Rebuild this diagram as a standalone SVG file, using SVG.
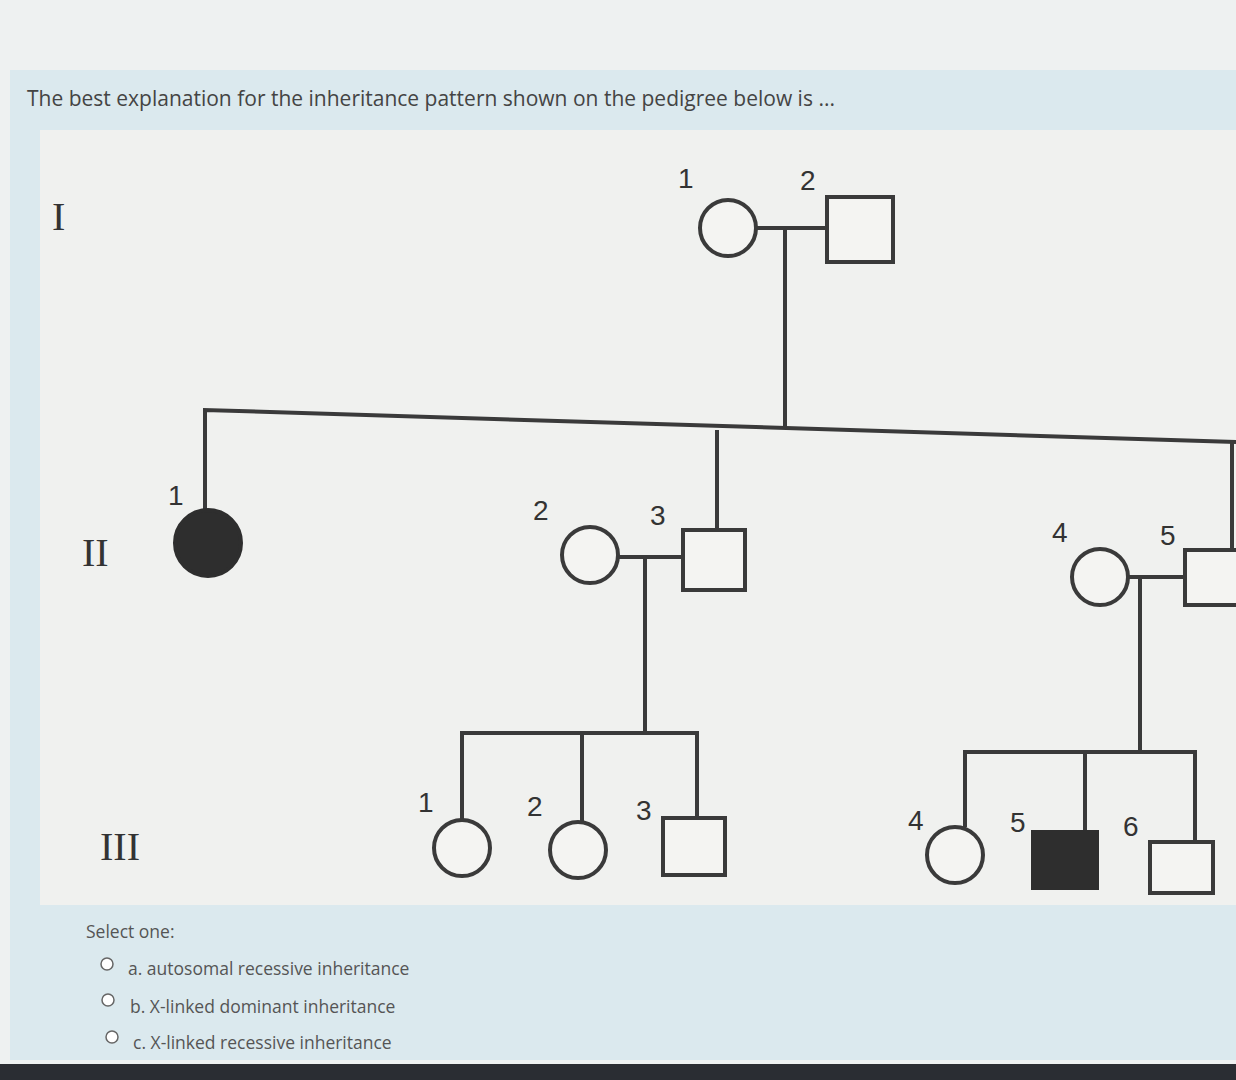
<svg xmlns="http://www.w3.org/2000/svg" width="1236" height="1080" viewBox="0 0 1236 1080">
<style>
.ln{stroke:#3a3a3a;stroke-width:4;fill:none}
.sym{stroke:#3a3a3a;stroke-width:4;fill:#f4f4f2}
.fill{fill:#2e2e2e;stroke:#2e2e2e;stroke-width:4}
.num{font-family:"Liberation Sans",Arial,sans-serif;font-size:28px;fill:#333}
.gen{font-family:"Liberation Serif","Times New Roman",serif;font-size:40px;fill:#333}
.ui{font-family:"Open Sans","Liberation Sans",sans-serif;font-size:17.5px;fill:#555}
.rad{fill:#fff;stroke:#666;stroke-width:1.5}
</style>
<rect width="1236" height="1080" fill="#eef1f1"/>
<rect x="10" y="70" width="1226" height="990" fill="#dbe9ee"/>
<rect x="40" y="130" width="1196" height="775" fill="#f0f1ef"/>
<text x="27" y="106" class="ui" style="font-size:21px;fill:#444">The best explanation for the inheritance pattern shown on the pedigree below is ...</text>
<g id="gen-labels">
<text x="52" y="230" class="gen">I</text>
<text x="82" y="566" class="gen">II</text>
<text x="100" y="860" class="gen">III</text>
</g>
<g id="connectors">
<path class="ln" d="M756 228H827M785 228V428"/>
<path class="ln" d="M205 510V410L1236 442"/>
<path class="ln" d="M717 430V530M618 557H683M645 557V735"/>
<path class="ln" d="M1232 441V550M1128 577H1185M1140 577V752"/>
<path class="ln" d="M462 820V733H697V818M582 822V735"/>
<path class="ln" d="M965 827V752H1195V842M1085 832V752"/>
</g>
<g id="I-1"><circle cx="728" cy="228" r="28" class="sym"/><text x="678" y="188" class="num">1</text></g>
<g id="I-2"><rect x="827" y="197" width="66" height="65" class="sym"/><text x="800" y="190" class="num">2</text></g>
<g id="II-1"><circle cx="208" cy="543" r="33" class="fill"/><text x="168" y="505" class="num">1</text></g>
<g id="II-2"><circle cx="590" cy="555" r="28" class="sym"/><text x="533" y="520" class="num">2</text></g>
<g id="II-3"><rect x="683" y="530" width="62" height="60" class="sym"/><text x="650" y="525" class="num">3</text></g>
<g id="II-4"><circle cx="1100" cy="577" r="28" class="sym"/><text x="1052" y="542" class="num">4</text></g>
<g id="II-5"><rect x="1185" y="550" width="60" height="55" class="sym"/><text x="1160" y="545" class="num">5</text></g>
<g id="III-1"><circle cx="462" cy="848" r="28" class="sym"/><text x="418" y="812" class="num">1</text></g>
<g id="III-2"><circle cx="578" cy="850" r="28" class="sym"/><text x="527" y="816" class="num">2</text></g>
<g id="III-3"><rect x="663" y="818" width="62" height="57" class="sym"/><text x="636" y="820" class="num">3</text></g>
<g id="III-4"><circle cx="955" cy="855" r="28" class="sym"/><text x="908" y="830" class="num">4</text></g>
<g id="III-5"><rect x="1033" y="832" width="64" height="56" class="fill"/><text x="1010" y="832" class="num">5</text></g>
<g id="III-6"><rect x="1150" y="842" width="63" height="51" class="sym"/><text x="1123" y="836" class="num">6</text></g>
<text x="86" y="938" class="ui">Select one:</text>
<circle cx="107" cy="964" r="6" class="rad"/><text x="128" y="975" class="ui">a. autosomal recessive inheritance</text>
<circle cx="108" cy="1000" r="6" class="rad"/><text x="130" y="1013" class="ui">b. X-linked dominant inheritance</text>
<circle cx="112" cy="1037" r="6" class="rad"/><text x="133" y="1049" class="ui">c. X-linked recessive inheritance</text>
<rect x="0" y="1064" width="1236" height="16" fill="#2a2d33"/>
</svg>
